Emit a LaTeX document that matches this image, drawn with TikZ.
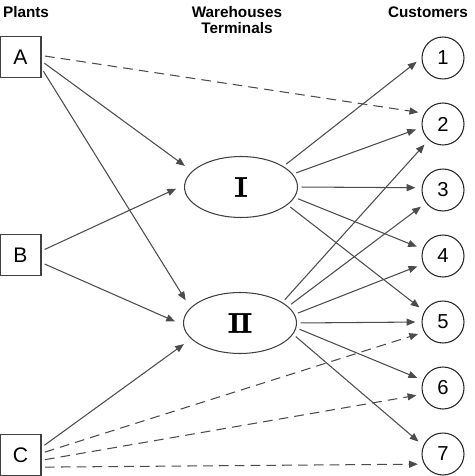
\documentclass[tikz,border=0pt]{standalone}
\usepackage{fontspec}
\setmainfont{Liberation Sans}
\newfontfamily\numfont[FakeStretch=1.5, FakeBold=1.5]{DejaVu Serif}
\usetikzlibrary{shapes.geometric,arrows.meta}

\begin{document}
\begin{tikzpicture}[x=0.02cm, y=-0.02cm, font=\fontsize{12}{14}\selectfont,
    plant/.style={draw=black!75, line width=0.6pt, shape=rectangle, minimum size=0.82cm, inner sep=0pt},
    depot/.style={draw=black!75, line width=0.6pt, shape=ellipse, minimum width=2.26cm, minimum height=1.22cm, inner sep=0pt, font=\numfont\fontsize{15}{15}\selectfont},
    cust/.style={draw=black!85, line width=0.6pt, shape=circle, minimum size=0.84cm, inner sep=0pt, font=\fontsize{11.5}{13}\selectfont},
    head/.style={font=\bfseries\fontsize{8.7}{9.2}\selectfont, align=center},
    flow/.style={draw=black!70, line width=0.6pt, -{Triangle[length=5pt,width=4pt]}, shorten <=2pt, shorten >=3.5pt},
    direct/.style={flow, dash pattern=on 5.5pt off 3.5pt}]
    \useasboundingbox (0,0) rectangle (474,476);

    % headings
    \node (hplants) [head] at (26,12) {Plants};
    \node (hdepots) [head] at (237,20) {Warehouses\\Terminals};
    \node (hcusts) [head] at (428,12) {Customers};

    % plants
    \node (A) [plant] at (20.5,57) {A};
    \node (B) [plant] at (20.5,255) {B};
    \node (C) [plant] at (20.5,455) {C};

    % warehouses
    \node (w1) [depot] at (241,187) {Ⅰ};
    \node (w2) [depot] at (240,323) {Ⅱ};

    % customers
    \node (c1) [cust] at (443,58) {1};
    \node (c2) [cust] at (443,124) {2};
    \node (c3) [cust] at (443,190) {3};
    \node (c4) [cust] at (443,256) {4};
    \node (c5) [cust] at (443,322) {5};
    \node (c6) [cust] at (443,388) {6};
    \node (c7) [cust] at (443,454) {7};

    % plants to warehouses
    \draw [flow, shorten >=5pt] (A.-11) -- (w1.162);
    \draw [flow, shorten >=5pt] (A.-28) -- (w2.163);
    \draw [flow, shorten >=5pt] (B.11) -- (w1.178);
    \draw [flow, shorten >=5pt] (B.-20) -- (w2.182);
    \draw [flow, shorten >=5pt] (C.20) -- (w2.198);

    % direct shipments
    \draw [direct] (A.4) -- (c2.150);
    \draw [direct] (C.5) -- (c5.208);
    \draw [direct] (C.-14) -- (c6.197);
    \draw [direct] (C.-30) -- (c7.208);

    % warehouses to customers
    \draw [flow] (w1.26) -- (c1.180);
    \draw [flow] (w1.14) -- (c2.189);
    \draw [flow] (w1.east) -- (c3.174);
    \draw [flow] (w1.-11) -- (c4.161);
    \draw [flow] (w1.-21) -- (c5.150);
    \draw [flow] (w2.26) -- (c2.228);
    \draw [flow] (w2.19) -- (c3.217);
    \draw [flow] (w2.9) -- (c4.202);
    \draw [flow] (w2.east) -- (c5.west);
    \draw [flow] (w2.-5) -- (c6.159);
    \draw [flow] (w2.-12) -- (c7.157);
\end{tikzpicture}
\end{document}
